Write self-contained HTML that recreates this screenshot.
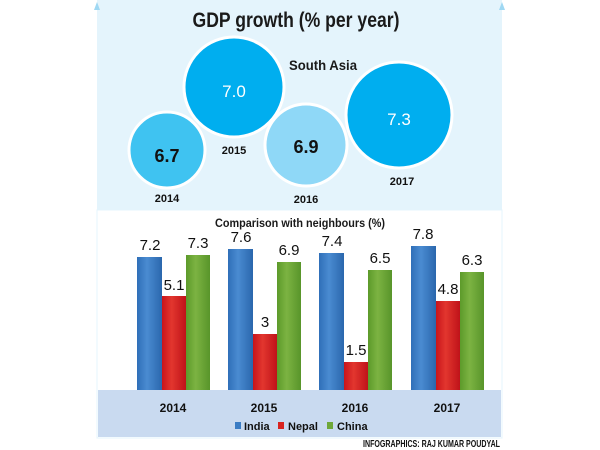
<!DOCTYPE html>
<html><head><meta charset="utf-8"><style>
html,body{margin:0;padding:0;background:#fff;}
svg{display:block;font-family:"Liberation Sans",sans-serif;}
</style></head><body>
<svg width="600" height="450" viewBox="0 0 600 450">
<defs>
<linearGradient id="gb" x1="0" x2="1"><stop offset="0" stop-color="#2f6fb8"/><stop offset="0.4" stop-color="#4a8bd1"/><stop offset="1" stop-color="#2a67ad"/></linearGradient>
<linearGradient id="gr" x1="0" x2="1"><stop offset="0" stop-color="#c8141b"/><stop offset="0.4" stop-color="#e2362e"/><stop offset="1" stop-color="#bf1219"/></linearGradient>
<linearGradient id="gg" x1="0" x2="1"><stop offset="0" stop-color="#5c9a2a"/><stop offset="0.4" stop-color="#7cb342"/><stop offset="1" stop-color="#58952a"/></linearGradient>
</defs>
<rect x="97" y="0" width="405" height="210" fill="#e4f4fc"/>
<polygon points="94,10 97,2 100,10" fill="#9fd8f3"/>
<polygon points="499,10 502,2 505,10" fill="#9fd8f3"/>
<rect x="97" y="210" width="405" height="228" fill="#fff" stroke="#e4f4fc" stroke-width="1"/>
<text x="296" y="27" font-size="21" font-weight="bold" text-anchor="middle" textLength="207" lengthAdjust="spacingAndGlyphs" fill="#1a1a1a">GDP growth (% per year)</text>
<text x="323" y="70" font-size="14" font-weight="bold" text-anchor="middle" textLength="68" lengthAdjust="spacingAndGlyphs" fill="#1a1a1a">South Asia</text>
<circle cx="234" cy="87" r="50" fill="#00aeef" stroke="#fff" stroke-width="3"/>
<circle cx="167" cy="150" r="38" fill="#3fc3f1" stroke="#fff" stroke-width="3"/>
<circle cx="306" cy="145" r="41" fill="#8fd8f7" stroke="#fff" stroke-width="3"/>
<circle cx="399" cy="115" r="53" fill="#00aeef" stroke="#fff" stroke-width="3"/>
<text x="234" y="97" font-size="17" fill="#fff" text-anchor="middle">7.0</text>
<text x="167" y="162" font-size="18" font-weight="bold" fill="#111" text-anchor="middle">6.7</text>
<text x="306" y="153" font-size="18" font-weight="bold" fill="#111" text-anchor="middle">6.9</text>
<text x="399" y="125" font-size="17" fill="#fff" text-anchor="middle">7.3</text>
<g font-size="11" font-weight="bold" fill="#111" text-anchor="middle">
<text x="167" y="202">2014</text><text x="234" y="154">2015</text><text x="306" y="203">2016</text><text x="402" y="185">2017</text>
</g>
<text x="300" y="227" font-size="12" font-weight="bold" text-anchor="middle" textLength="170" lengthAdjust="spacingAndGlyphs" fill="#1a1a1a">Comparison with neighbours (%)</text>
<rect x="98" y="390" width="403" height="47" fill="#c9daf0"/>
<g id="bars">
<rect x="137" y="257" width="25" height="133" fill="url(#gb)"/>
<rect x="162" y="296" width="24" height="94" fill="url(#gr)"/>
<rect x="186" y="255" width="24" height="135" fill="url(#gg)"/>
<rect x="228" y="249" width="25" height="141" fill="url(#gb)"/>
<rect x="253" y="334" width="24" height="56" fill="url(#gr)"/>
<rect x="277" y="262" width="24" height="128" fill="url(#gg)"/>
<rect x="319" y="253" width="25" height="137" fill="url(#gb)"/>
<rect x="344" y="362" width="24" height="28" fill="url(#gr)"/>
<rect x="368" y="270" width="24" height="120" fill="url(#gg)"/>
<rect x="411" y="246" width="25" height="144" fill="url(#gb)"/>
<rect x="436" y="301" width="24" height="89" fill="url(#gr)"/>
<rect x="460" y="272" width="24" height="118" fill="url(#gg)"/>
</g>
<g font-size="15" fill="#111" text-anchor="middle">
<text x="150" y="250">7.2</text><text x="174" y="290">5.1</text><text x="198" y="248">7.3</text>
<text x="241" y="242">7.6</text><text x="265" y="327">3</text><text x="289" y="255">6.9</text>
<text x="332" y="246">7.4</text><text x="356" y="355">1.5</text><text x="380" y="263">6.5</text>
<text x="423" y="239">7.8</text><text x="448" y="294">4.8</text><text x="472" y="265">6.3</text>
</g>
<g font-size="12" font-weight="bold" fill="#111" text-anchor="middle">
<text x="173" y="412">2014</text><text x="264" y="412">2015</text><text x="355" y="412">2016</text><text x="447" y="412">2017</text>
</g>
<g font-size="11" font-weight="bold" fill="#111">
<rect x="235" y="422" width="6" height="7" fill="#3a7cc4"/><text x="244" y="430">India</text>
<rect x="278" y="422" width="6" height="7" fill="#d8231f"/><text x="288" y="430">Nepal</text>
<rect x="327" y="422" width="6" height="7" fill="#6fa83a"/><text x="337" y="430">China</text>
</g>
<text x="500" y="447" font-size="10" font-weight="bold" fill="#111" text-anchor="end" textLength="137" lengthAdjust="spacingAndGlyphs">INFOGRAPHICS: RAJ KUMAR POUDYAL</text>
</svg>
</body></html>
